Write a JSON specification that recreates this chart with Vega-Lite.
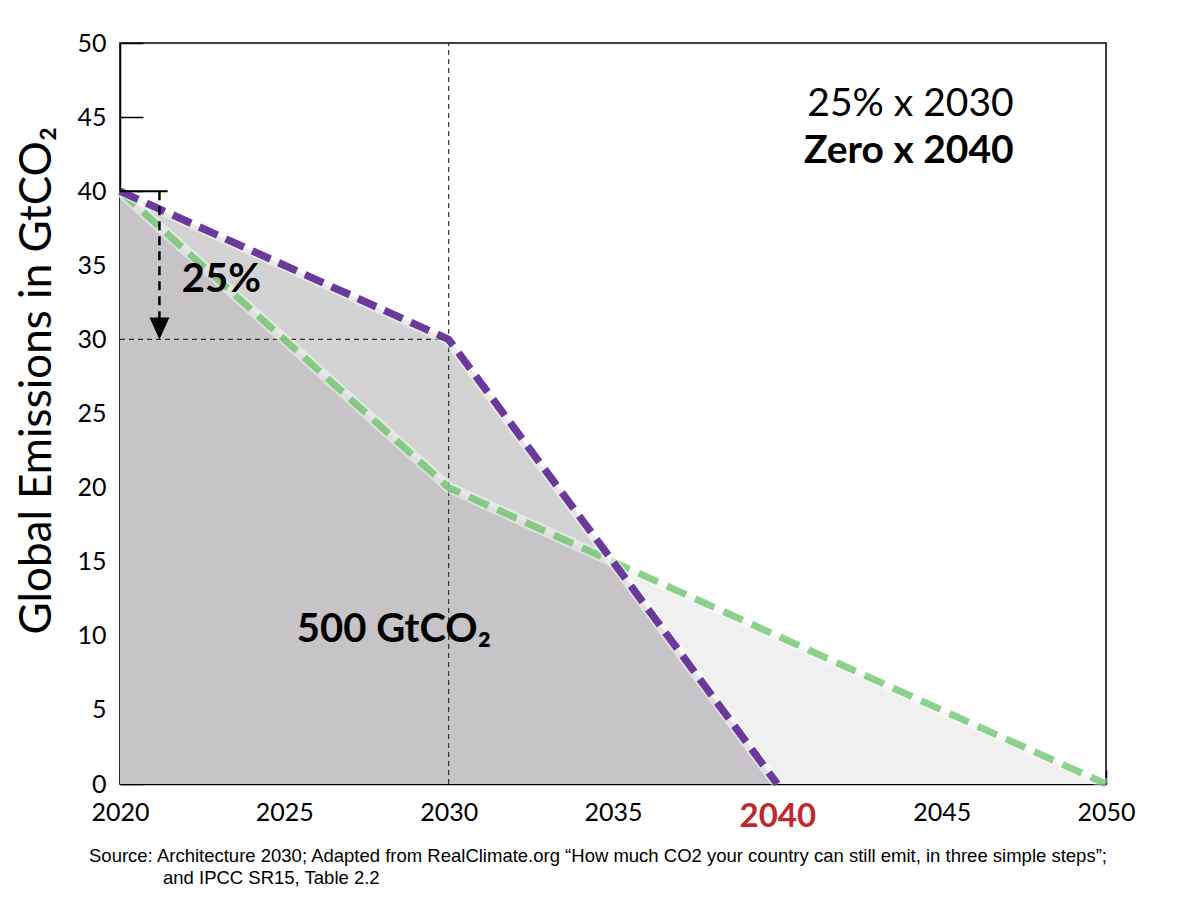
{
  "$schema": "https://vega.github.io/schema/vega-lite/v6.json",
  "width": 986,
  "height": 741,
  "autosize": {"type": "none"},
  "padding": {"left": 120, "top": 43, "right": 94, "bottom": 116},
  "background": "white",
  "config": {
    "font": "Lato",
    "view": {"stroke": "black", "strokeWidth": 1.5},
    "axis": {"grid": false}
  },
  "datasets": {
    "purple": [
      {"year": 2020, "value": 40},
      {"year": 2030, "value": 30},
      {"year": 2040, "value": 0}
    ],
    "green": [
      {"year": 2020, "value": 40},
      {"year": 2030, "value": 20},
      {"year": 2050, "value": 0}
    ],
    "lower": [
      {"year": 2020, "value": 40},
      {"year": 2030, "value": 20},
      {"year": 2035, "value": 15},
      {"year": 2040, "value": 0}
    ],
    "guides": [
      {"year": 2030, "year2": 2030, "value": 0, "value2": 50},
      {"year": 2020, "year2": 2030, "value": 30, "value2": 30}
    ],
    "arrow": [
      {"year": 2021.2, "year2": 2021.2, "value": 40, "value2": 30.6}
    ],
    "cap": [
      {"year": 2020, "year2": 2021.45, "value": 40, "value2": 40}
    ],
    "arrowhead": [
      {"year": 2021.2, "value": 30}
    ],
    "pct": [
      {"year": 2021.88, "value": 34, "label": "25%"}
    ],
    "total": [
      {"year": 2025.38, "value": 10.4, "label": "500 GtCO₂"}
    ],
    "head1": [
      {"year": 2044.05, "value": 45.9, "label": "25% x 2030"}
    ],
    "head2": [
      {"year": 2044.0, "value": 42.7, "label": "Zero x 2040"}
    ],
    "footer1": [
      {"year": 2020, "value": 0, "label": "Source: Architecture 2030; Adapted from RealClimate.org “How much CO2 your country can still emit, in three simple steps”;"}
    ],
    "footer2": [
      {"year": 2020, "value": 0, "label": "and IPCC SR15, Table 2.2"}
    ]
  },
  "encoding": {
    "x": {
      "field": "year",
      "type": "quantitative",
      "scale": {"domain": [2020, 2050], "nice": false, "zero": false},
      "axis": {
        "title": null,
        "values": [2020, 2025, 2030, 2035, 2040, 2045, 2050],
        "format": "d",
        "labelFont": "Lato",
        "labelFontSize": {"condition": {"test": "datum.value == 2040", "value": 33}, "value": 25},
        "labelFontWeight": {"condition": {"test": "datum.value == 2040", "value": "bold"}, "value": "normal"},
        "labelColor": {"condition": {"test": "datum.value == 2040", "value": "#C1272D"}, "value": "black"},
        "labelFlush": false,
        "labelOverlap": false,
        "labelBound": false,
        "tickSize": -14,
        "tickColor": "black",
        "tickWidth": 1.5,
        "labelPadding": 30,
        "domainColor": "black",
        "domainWidth": 1.5
      }
    },
    "y": {
      "field": "value",
      "type": "quantitative",
      "scale": {"domain": [0, 50], "nice": false},
      "axis": {
        "title": "Global Emissions in GtCO₂",
        "titleFont": "Lato",
        "titleFontSize": 44,
        "titleFontWeight": "normal",
        "titleColor": "black",
        "titleAngle": -90,
        "titleAlign": "center",
        "titleBaseline": "alphabetic",
        "titleX": -70,
        "titleY": 337,
        "values": [0, 5, 10, 15, 20, 25, 30, 35, 40, 45, 50],
        "labelFont": "Lato",
        "labelFontSize": 25,
        "labelColor": "black",
        "labelOverlap": false,
        "labelBound": false,
        "labelFlush": false,
        "tickSize": -23,
        "tickColor": "black",
        "tickWidth": 1.5,
        "labelPadding": 37,
        "domainColor": "black",
        "domainWidth": 1.5
      }
    }
  },
  "layer": [
    {"data": {"name": "green"}, "mark": {"type": "area", "color": "#F0F0F0"}},
    {"data": {"name": "purple"}, "mark": {"type": "area", "color": "#D3D3D3"}},
    {"data": {"name": "lower"}, "mark": {"type": "area", "color": "#C6C4C6"}},
    {
      "data": {"name": "guides"},
      "mark": {"type": "rule", "color": "#333333", "strokeWidth": 1.2, "strokeDash": [5, 4]},
      "encoding": {"x2": {"field": "year2"}, "y2": {"field": "value2"}}
    },
    {
      "data": {"name": "green"},
      "mark": {"type": "line", "color": "white", "strokeWidth": 11, "opacity": 0.45}
    },
    {
      "data": {"name": "green"},
      "mark": {"type": "line", "color": "#5CBF5C", "strokeWidth": 7, "opacity": 0.7, "strokeDash": [21, 10], "strokeCap": "butt"}
    },
    {
      "data": {"name": "purple"},
      "mark": {"type": "line", "color": "white", "strokeWidth": 11, "opacity": 0.5}
    },
    {
      "data": {"name": "purple"},
      "mark": {"type": "line", "color": "#6A3A9B", "strokeWidth": 7.5, "strokeDash": [20, 9], "strokeCap": "butt"}
    },
    {
      "data": {"name": "cap"},
      "mark": {"type": "rule", "color": "black", "strokeWidth": 2},
      "encoding": {"x2": {"field": "year2"}, "y2": {"field": "value2"}}
    },
    {
      "data": {"name": "arrow"},
      "mark": {"type": "rule", "color": "black", "strokeWidth": 2.5, "strokeDash": [9, 6]},
      "encoding": {"x2": {"field": "year2"}, "y2": {"field": "value2"}}
    },
    {
      "data": {"name": "arrowhead"},
      "mark": {"type": "point", "shape": "M-0.9,-1L0.9,-1L0,1Z", "filled": true, "color": "black", "opacity": 1, "size": 484, "yOffset": -11}
    },
    {
      "data": {"name": "pct"},
      "mark": {"type": "text", "font": "Lato", "fontSize": 40, "fontWeight": "bold", "color": "black", "align": "left", "baseline": "middle"},
      "encoding": {"text": {"field": "label"}}
    },
    {
      "data": {"name": "total"},
      "mark": {"type": "text", "font": "Lato", "fontSize": 40, "fontWeight": "bold", "color": "black", "align": "left", "baseline": "middle"},
      "encoding": {"text": {"field": "label"}}
    },
    {
      "data": {"name": "head1"},
      "mark": {"type": "text", "font": "Lato", "fontSize": 39, "fontWeight": "normal", "color": "black", "align": "center", "baseline": "middle"},
      "encoding": {"text": {"field": "label"}}
    },
    {
      "data": {"name": "head2"},
      "mark": {"type": "text", "font": "Lato", "fontSize": 39, "fontWeight": "bold", "color": "black", "align": "center", "baseline": "middle"},
      "encoding": {"text": {"field": "label"}}
    },
    {
      "data": {"name": "footer1"},
      "mark": {"type": "text", "font": "Liberation Sans", "fontSize": 18.5, "color": "black", "align": "left", "baseline": "alphabetic", "dx": -31, "dy": 78},
      "encoding": {"text": {"field": "label"}}
    },
    {
      "data": {"name": "footer2"},
      "mark": {"type": "text", "font": "Liberation Sans", "fontSize": 18.5, "color": "black", "align": "left", "baseline": "alphabetic", "dx": 43, "dy": 100},
      "encoding": {"text": {"field": "label"}}
    }
  ]
}
